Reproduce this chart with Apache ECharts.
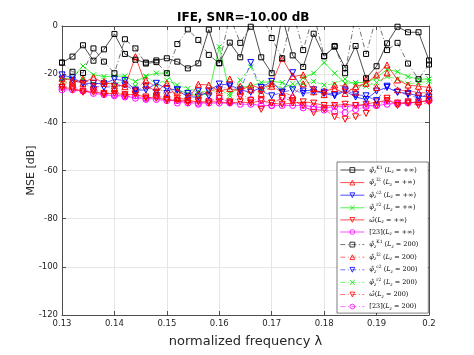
<!DOCTYPE html>
<html><head><meta charset="utf-8">
<script src="https://cdn.jsdelivr.net/npm/echarts@6/dist/echarts.min.js"></script>
<style>html,body{margin:0;padding:0;background:#fff}#c{width:474px;height:355px}</style>
</head><body><div id="c"></div>
<script>
const xs = [0.130,0.132,0.134,0.136,0.138,0.140,0.142,0.144,0.146,0.148,0.150,0.152,0.154,0.156,0.158,0.160,0.162,0.164,0.166,0.168,0.170,0.172,0.174,0.176,0.178,0.180,0.182,0.184,0.186,0.188,0.190,0.192,0.194,0.196,0.198,0.200];
const xTicks = [0.13,0.14,0.15,0.16,0.17,0.18,0.19,0.2];
const yTicks = [-120,-100,-80,-60,-40,-20,0];

const k1Inf  = [-15.2,-12.7,-8.0,-14.4,-9.7,-3.3,-11.6,-14.0,-15.2,-14.3,-13.4,-14.8,-17.6,-15.5,-1.5,-15.4,-6.9,-13.0,3,-13.0,-19.6,4,-12.2,-17.0,-3.2,-12.5,-8.6,-17.4,-8.3,-21.7,-16.7,-7.2,-0.3,-2.6,-2.6,-14.3];
const t2Inf  = [-21.7,-22.5,-23.8,-21.3,-23.8,-24.0,-25.2,-12.7,-24.5,-27.3,-23.8,-30.0,-30.5,-24.2,-24.5,-27.0,-26.0,-27.0,-24.5,-26.0,-24.0,-13.4,-21.0,-20.3,-27.3,-27.0,-26.0,-28.0,-25.2,-23.8,-20.3,-16.2,-22.4,-24.5,-25.0,-25.5];
const c2Inf  = [-20.3,-21.5,-23.8,-23.8,-24.0,-22.1,-22.7,-26.6,-26.6,-23.8,-26.0,-26.6,-29.4,-29.5,-27.0,-24.1,-24.5,-26.5,-27.5,-25.5,-23.0,-27.5,-19.4,-27.0,-26.5,-28.0,-29.0,-27.0,-29.5,-30.5,-27.0,-25.5,-27.5,-28.0,-29.0,-29.5];
const r2Inf  = [-22.0,-21.5,-16.6,-20.3,-21.0,-20.8,-20.8,-23.1,-20.8,-19.6,-19.6,-26.6,-28.0,-29.0,-28.0,-8.6,-28.0,-25.5,-25.0,-23.5,-23.0,-23.5,-25.5,-21.5,-19.6,-15.2,-19.6,-23.8,-23.5,-23.5,-21.5,-18.0,-19.0,-21.0,-22.1,-22.0];
const omInf  = [-25.5,-26.0,-27.0,-27.5,-28.0,-28.0,-28.5,-28.5,-29.5,-30.0,-30.5,-31.0,-31.0,-31.5,-31.5,-31.5,-32.0,-31.5,-32.0,-31.0,-32.0,-32.5,-32.0,-31.5,-32.0,-33.0,-33.0,-32.5,-33.0,-32.5,-31.5,-31.0,-32.0,-32.0,-31.5,-31.0];
const r23Inf = [-26.5,-26.5,-27.0,-28.0,-28.5,-29.0,-29.0,-30.0,-30.0,-30.5,-31.0,-31.0,-32.0,-32.0,-32.0,-32.0,-32.0,-32.5,-32.5,-33.0,-33.0,-33.0,-33.0,-33.0,-33.5,-34.0,-33.5,-33.5,-33.0,-33.0,-33.0,-32.5,-32.0,-32.0,-31.5,-31.0];
const k1L200  = [-15.2,-19.0,-19.5,-9.3,-14.8,-19.6,-5.5,-9.3,-15.6,-15.0,-19.6,-7.5,-1.4,-5.8,-12.0,-15.5,4,-7.0,-0.3,5,-5.0,-13.4,6,-10.0,5,-12.6,-8.3,-19.6,5,-11.6,4,-10.0,-7.0,-15.6,-22.1,-16.0];
const t2L200  = [-24.0,-23.0,-22.0,-24.5,-23.0,-26.0,-24.0,-26.5,-22.5,-25.5,-28.0,-27.0,-29.0,-28.5,-27.0,-26.0,-22.0,-25.0,-26.5,-28.0,-25.0,-27.5,-29.0,-24.0,-26.0,-28.5,-24.5,-25.0,-27.5,-22.0,-25.5,-19.5,-26.5,-27.0,-27.5,-28.0];
const c2L200  = [-22.0,-22.5,-24.0,-25.0,-25.5,-25.0,-24.5,-27.0,-25.0,-27.5,-28.0,-26.5,-28.0,-27.0,-29.0,-26.5,-25.0,-27.0,-15.2,-27.0,-29.0,-27.5,-26.5,-28.0,-27.5,-27.5,-28.5,-26.5,-28.5,-29.0,-31.0,-25.0,-27.5,-28.5,-30.0,-28.0];
const r2L200  = [-23.0,-23.5,-22.0,-24.0,-23.5,-24.5,-22.0,-25.0,-21.0,-24.0,-22.5,-24.5,-26.0,-27.0,-27.5,-26.0,-29.0,-22.5,-17.0,-27.0,-24.0,-26.0,-24.0,-24.0,-23.0,-24.5,-24.0,-22.0,-24.5,-25.0,-23.5,-21.0,-22.0,-24.0,-23.5,-23.0];
const omL200  = [-25.5,-26.5,-27.5,-26.5,-28.5,-27.0,-29.0,-28.0,-30.0,-29.0,-31.0,-30.0,-32.0,-31.0,-32.0,-30.0,-31.5,-29.5,-31.0,-34.6,-32.0,-30.0,-31.0,-33.0,-36.0,-34.5,-37.7,-38.7,-37.7,-36.3,-33.0,-30.0,-33.0,-31.5,-33.0,-31.5];
const r23L200 = [-25.5,-25.0,-27.0,-26.0,-28.0,-28.5,-29.5,-29.0,-30.5,-29.0,-30.0,-32.0,-31.0,-32.5,-31.0,-30.0,-31.5,-28.0,-30.5,-31.0,-33.0,-29.5,-30.0,-34.0,-34.5,-34.9,-35.5,-36.0,-34.7,-33.5,-33.0,-31.0,-32.5,-31.5,-32.0,-31.0];

const names = ['k1i','t2i','c2i','r2i','omi','r23i','k1d','t2d','c2d','r2d','omd','r23d'];
const labels = {
  k1i:'{p|φ̂}{s|z}{u|K1} ({p|L}{s|z} = +∞)',
  t2i:'{p|φ̂}{s|z}{u|I2} ({p|L}{s|z} = +∞)',
  c2i:'{p|φ̂}{s|z}{u|c2} ({p|L}{s|z} = +∞)',
  r2i:'{p|φ̂}{s|z}{u|r2} ({p|L}{s|z} = +∞)',
  omi:'{p|ω̂}({p|L}{s|z} = +∞)',
  r23i:'[23]({p|L}{s|z} = +∞)',
  k1d:'{p|φ̂}{s|z}{u|K1} ({p|L}{s|z} = 200)',
  t2d:'{p|φ̂}{s|z}{u|I2} ({p|L}{s|z} = 200)',
  c2d:'{p|φ̂}{s|z}{u|c2} ({p|L}{s|z} = 200)',
  r2d:'{p|φ̂}{s|z}{u|r2} ({p|L}{s|z} = 200)',
  omd:'{p|ω̂}({p|L}{s|z} = 200)',
  r23d:'[23]({p|L}{s|z} = 200)'
};
const dataArr = [k1Inf,t2Inf,c2Inf,r2Inf,omInf,r23Inf,k1L200,t2L200,c2L200,r2L200,omL200,r23L200];
const cols = ['#000000','#ff0000','#0000ff','#00ee00','#ff0000','#ff00ff'];
const XPATH = 'path://M0,0L10,10M10,0L0,10';
const syms = ['rect','triangle','triangle',XPATH,'triangle','circle'];
const rots = [0,0,180,0,180,0];
const sizes = [5,6,6,5,6,6];

const series = dataArr.map((arr, k) => {
  const j = k % 6, dash = k >= 6;
  return {
    name: names[k], type: 'line', data: xs.map((x, i) => [x, arr[i]]),
    symbol: syms[j], symbolRotate: rots[j], symbolSize: sizes[j], showSymbol: true,
    color: cols[j],
    lineStyle: {color: cols[j], width: 0.7, type: dash ? [5,2.5,1,2.5] : 'solid', opacity: dash ? 0.8 : 1},
    itemStyle: {color: 'rgba(255,255,255,0)', borderColor: cols[j], borderWidth: 1},
    clip: true, z: 10 - j, emphasis: {disabled: true}
  };
});

const chart = echarts.init(document.getElementById('c'), null, {renderer: 'canvas'});
const axCol = '#4d4d4d';
const font = 'DejaVu Sans';
chart.setOption({
  animation: false,
  backgroundColor: '#ffffff',
  title: {text: 'IFE, SNR=-10.00 dB', left: 172, top: 7, textStyle: {fontFamily: font, fontSize: 12, fontWeight: 'bold', color: '#000'}},
  grid: {left: 62, right: 45, top: 26, bottom: 40, show: false},
  legend: {
    data: names, orient: 'vertical', left: 337, top: 162, width: 91,
    backgroundColor: '#fff', borderColor: '#262626', borderWidth: 0.6, padding: [3, 10, 2, 3],
    itemWidth: 24, itemHeight: 6, itemGap: 3.1,
    itemStyle: {borderWidth: 0.8},
    lineStyle: {width: 0.7},
    formatter: n => labels[n],
    textStyle: {fontFamily: 'DejaVu Serif', fontSize: 6.5, color: '#000', lineHeight: 9,
      rich: {p: {fontFamily: 'DejaVu Serif', fontSize: 6.5, fontStyle: 'italic'},
             s: {fontFamily: 'DejaVu Serif', fontSize: 4.5, fontStyle: 'italic', padding: [4,0,0,0]},
             u: {fontFamily: 'DejaVu Serif', fontSize: 4.5, padding: [0,0,5,0]}}}
  },
  xAxis: [{
    type: 'value', min: 0.13, max: 0.2, interval: 0.01,
    name: 'normalized frequency λ', nameLocation: 'middle', nameGap: 20, nameMoveOverlap: false,
    nameTextStyle: {fontFamily: font, fontSize: 13, color: '#262626'},
    axisLine: {show: true, onZero: false, lineStyle: {color: axCol, width: 1}},
    axisTick: {show: true, inside: true, length: 4, lineStyle: {color: axCol}},
    axisLabel: {fontFamily: font, fontSize: 8.5, color: '#262626', margin: 4, formatter: v => String(+v.toFixed(2))},
    splitLine: {show: true, lineStyle: {color: '#e6e6e6', width: 1}}
  }, {
    type: 'value', position: 'top', min: 0.13, max: 0.2, interval: 0.01,
    axisLine: {show: true, onZero: false, lineStyle: {color: axCol, width: 1}},
    axisTick: {show: true, inside: true, length: 4, lineStyle: {color: axCol}},
    axisLabel: {show: false}, splitLine: {show: false}
  }],
  yAxis: [{
    type: 'value', min: -120, max: 0, interval: 20,
    name: 'MSE [dB]', nameLocation: 'middle', nameGap: 25, nameMoveOverlap: false,
    nameTextStyle: {fontFamily: font, fontSize: 11, color: '#262626'},
    axisLine: {show: true, onZero: false, lineStyle: {color: axCol, width: 1}},
    axisTick: {show: true, inside: true, length: 4, lineStyle: {color: axCol}},
    axisLabel: {fontFamily: font, fontSize: 8.5, color: '#262626', margin: 4},
    splitLine: {show: true, lineStyle: {color: '#e6e6e6', width: 1}}
  }, {
    type: 'value', position: 'right', min: -120, max: 0, interval: 20,
    axisLine: {show: true, onZero: false, lineStyle: {color: axCol, width: 1}},
    axisTick: {show: true, inside: true, length: 4, lineStyle: {color: axCol}},
    axisLabel: {show: false}, splitLine: {show: false}
  }],
  series: series
});
</script></body></html>
